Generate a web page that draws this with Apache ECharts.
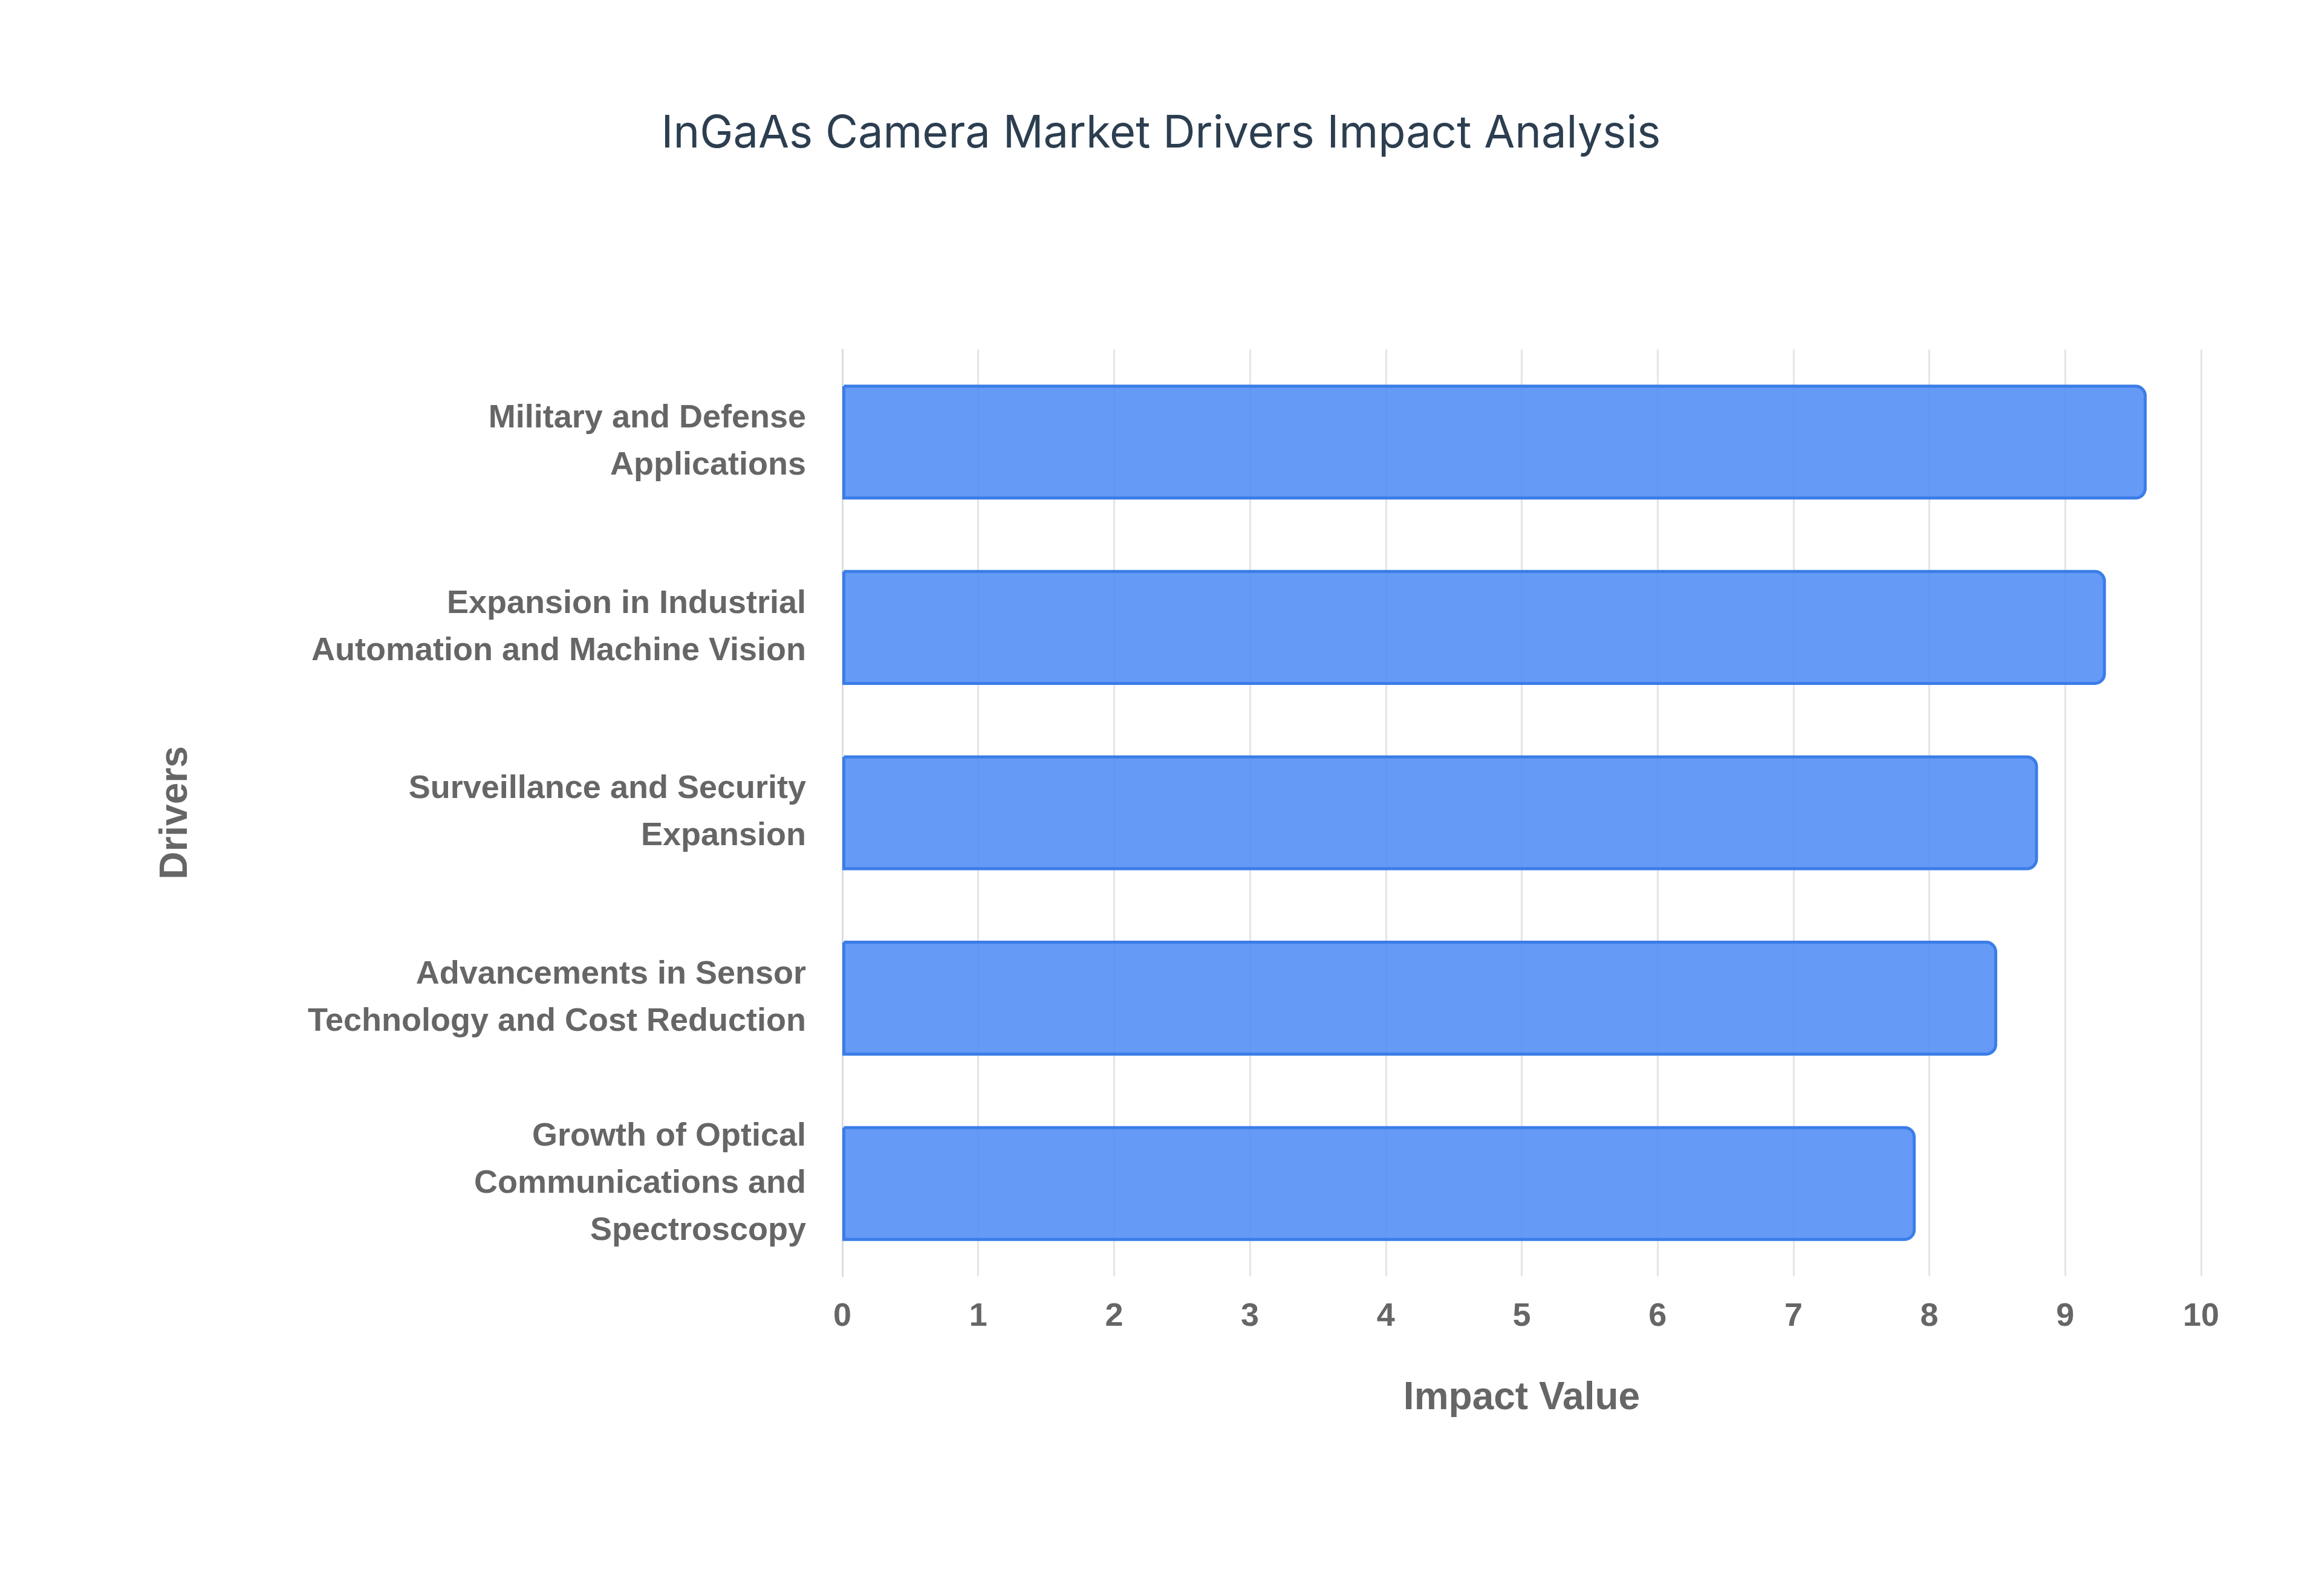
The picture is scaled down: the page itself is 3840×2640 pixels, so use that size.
<!DOCTYPE html>
<html><head><meta charset="utf-8">
<script src="https://cdn.jsdelivr.net/npm/echarts@6/dist/echarts.min.js"></script>
<style>html,body{margin:0;padding:0;background:#fff}#c{width:3840px;height:2640px}</style>
</head><body><div id="c"></div>
<script>
const categories = ["Growth of Optical\nCommunications and\nSpectroscopy","Advancements in Sensor\nTechnology and Cost Reduction","Surveillance and Security\nExpansion","Expansion in Industrial\nAutomation and Machine Vision","Military and Defense\nApplications"];
const values = [7.9, 8.5, 8.8, 9.3, 9.6];
const xTicks = [0,10,1];
const chart = echarts.init(document.getElementById('c'));
chart.setOption({
  backgroundColor:'#fff',
  title:{text:'InGaAs Camera Market Drivers Impact Analysis',left:'center',top:180,textStyle:{fontFamily:'Inter',fontSize:74,fontWeight:'normal',color:'#2c3e50'}},
  grid:{left:1393,right:200,top:578,bottom:529},
  xAxis:{type:'value',min:xTicks[0],max:xTicks[1],interval:xTicks[2],name:'Impact Value',nameLocation:'middle',nameGap:170,
    nameTextStyle:{fontFamily:'Liberation Sans',fontWeight:'bold',fontSize:64,color:'#666'},
    axisLabel:{fontFamily:'Liberation Sans',fontWeight:'bold',fontSize:54,color:'#666',margin:40},
    axisLine:{show:false},axisTick:{show:false},splitLine:{lineStyle:{color:'#e5e5e5',width:3}}},
  yAxis:{type:'category',data:categories,name:'Drivers',nameLocation:'middle',nameGap:1070,nameRotate:90,
    nameTextStyle:{fontFamily:'Liberation Sans',fontWeight:'bold',fontSize:64,color:'#666'},
    axisLabel:{fontFamily:'Liberation Sans',fontWeight:'bold',fontSize:54,color:'#666',margin:60,lineHeight:78,align:'right'},
    axisLine:{show:true,lineStyle:{color:'#ddd',width:3}},axisTick:{show:false}},
  series:[{type:'bar',data:values,barCategoryGap:'38%',
    itemStyle:{color:'rgba(80,140,245,0.88)',borderColor:'#3b7de8',borderWidth:5,borderRadius:[0,16,16,0]}}]
});
</script></body></html>
